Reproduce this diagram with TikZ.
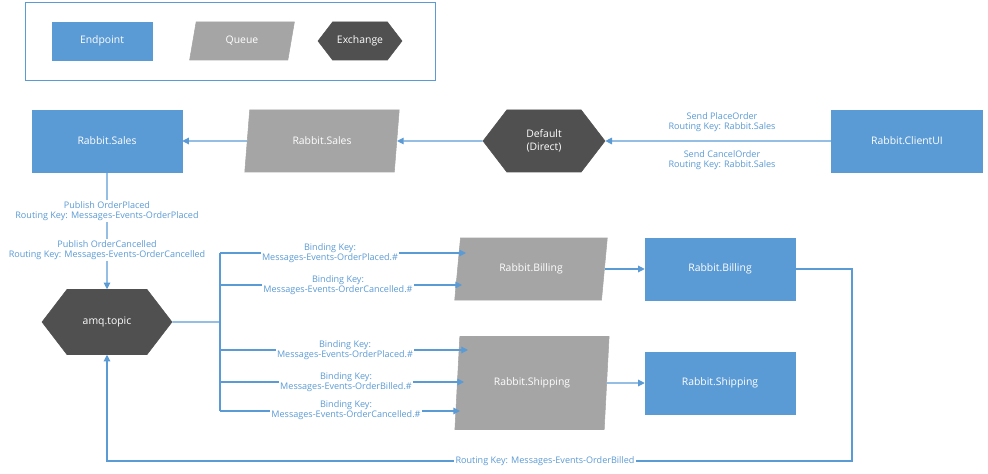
\documentclass[tikz,border=0pt]{standalone}
\usepackage{fontspec}
\setmainfont{Open Sans}
\usetikzlibrary{shapes.geometric,shapes.symbols,arrows.meta,positioning}
\definecolor{mblue}{HTML}{5B9BD5}
\definecolor{mgray}{HTML}{A5A5A5}
\definecolor{mdark}{HTML}{505050}
\definecolor{mline}{HTML}{5B9BD5}
\tikzstyle{endpoint}=[rectangle, fill=mblue, draw=mblue, text=white, font=\fontsize{7.8}{9}\selectfont, inner sep=0pt]
\tikzstyle{queue}=[trapezium, trapezium left angle=76, trapezium right angle=104, trapezium stretches=true, fill=mgray, draw=mgray, text=white, font=\fontsize{7.8}{9}\selectfont, inner sep=0pt]
\tikzstyle{exchange}=[signal, signal to=east and west, signal pointer angle=105, fill=mdark, draw=mdark, text=white, font=\fontsize{7.8}{9.5}\selectfont, align=center, inner sep=0pt]
\tikzstyle{lbl}=[fill=white, text=mline, font=\fontsize{6.8}{8}\selectfont, align=center, inner sep=1pt]
\tikzstyle{l1}=[draw=mline, line width=0.8, -{Triangle[length=5pt,width=5pt]}]
\tikzstyle{l0}=[draw=mline, line width=0.8]

\begin{document}
\begin{tikzpicture}[x=0.75pt, y=-0.75pt]
    \useasboundingbox (0,0) rectangle (988,474);
    % legend
    \draw[mline, line width=0.6] (25,2) rectangle (435,80);
    \node[endpoint, minimum width=75pt, minimum height=28.5pt] at (102,41) (le) {Endpoint};
    \node[queue, minimum width=78.75pt, minimum height=28.5pt] at (242,41) (lq) {Queue};
    \node[exchange, minimum width=63pt, minimum height=28.5pt] at (360,41) (lx) {Exchange};

    % top row
    \node[endpoint, minimum width=112.5pt, minimum height=46.5pt] at (107,141) (sales) {Rabbit.Sales};
    \node[queue, minimum width=116.25pt, minimum height=46.5pt] at (322,141) (qsales) {Rabbit.Sales};
    \node[exchange, minimum width=91.5pt, minimum height=46.5pt] at (544,141) (default) {Default\\(Direct)};
    \node[endpoint, minimum width=113.25pt, minimum height=46.5pt] at (907,141) (client) {Rabbit.ClientUI};

    \draw[l1] (client) -- (default);
    \draw[l1] (default) -- (qsales);
    \draw[l1] (qsales) -- (sales);
    \node[lbl] at (722,122) (send1) {Send PlaceOrder\\Routing Key: Rabbit.Sales};
    \node[lbl] at (722,160) (send2) {Send CancelOrder\\Routing Key: Rabbit.Sales};

    % topic exchange
    \node[exchange, minimum width=97.5pt, minimum height=48.75pt] at (107,322) (topic) {amq.topic};
    \draw[l1] (sales) -- (topic);
    \node[lbl] at (107,211) (pub1) {Publish OrderPlaced\\Routing Key: Messages-Events-OrderPlaced};
    \node[lbl] at (107,250) (pub2) {Publish OrderCancelled\\Routing Key: Messages-Events-OrderCancelled};

    % queues and endpoints
    \node[queue, minimum width=114.75pt, minimum height=46.5pt] at (531,269) (qbill) {Rabbit.Billing};
    \node[queue, minimum width=116.25pt, minimum height=69.75pt] at (532,383) (qship) {Rabbit.Shipping};
    \node[endpoint, minimum width=112.5pt, minimum height=46.5pt] at (720,269) (bill) {Rabbit.Billing};
    \node[endpoint, minimum width=112.5pt, minimum height=46.5pt] at (720,383) (ship) {Rabbit.Shipping};
    \draw[l1] (qbill) -- (bill);
    \draw[l1] (qship) -- (ship);

    % bindings
    \coordinate (b0) at (220,322);
    \draw[l0] (topic) -- (b0);
    \draw[l0] (220,253) -- (220,411);
    \draw[l1] (220,253) -- (466,253);
    \draw[l1] (220,285) -- (462,285);
    \draw[l1] (220,350) -- (468,350);
    \draw[l1] (220,382) -- (464,382);
    \draw[l1] (220,411) -- (460,411);
    \node[lbl] at (330,253) (k1) {Binding Key:\\Messages-Events-OrderPlaced.\#};
    \node[lbl] at (338,285) (k2) {Binding Key:\\Messages-Events-OrderCancelled.\#};
    \node[lbl] at (345,350) (k3) {Binding Key:\\Messages-Events-OrderPlaced.\#};
    \node[lbl] at (346,382) (k4) {Binding Key:\\Messages-Events-OrderBilled.\#};
    \node[lbl] at (346,410) (k5) {Binding Key:\\Messages-Events-OrderCancelled.\#};

    % billed back to topic
    \draw[l1] (bill.east) -| (852,461) -| (topic.south);
    \node[lbl] at (545,461) (billed) {Routing Key: Messages-Events-OrderBilled};
\end{tikzpicture}
\end{document}
